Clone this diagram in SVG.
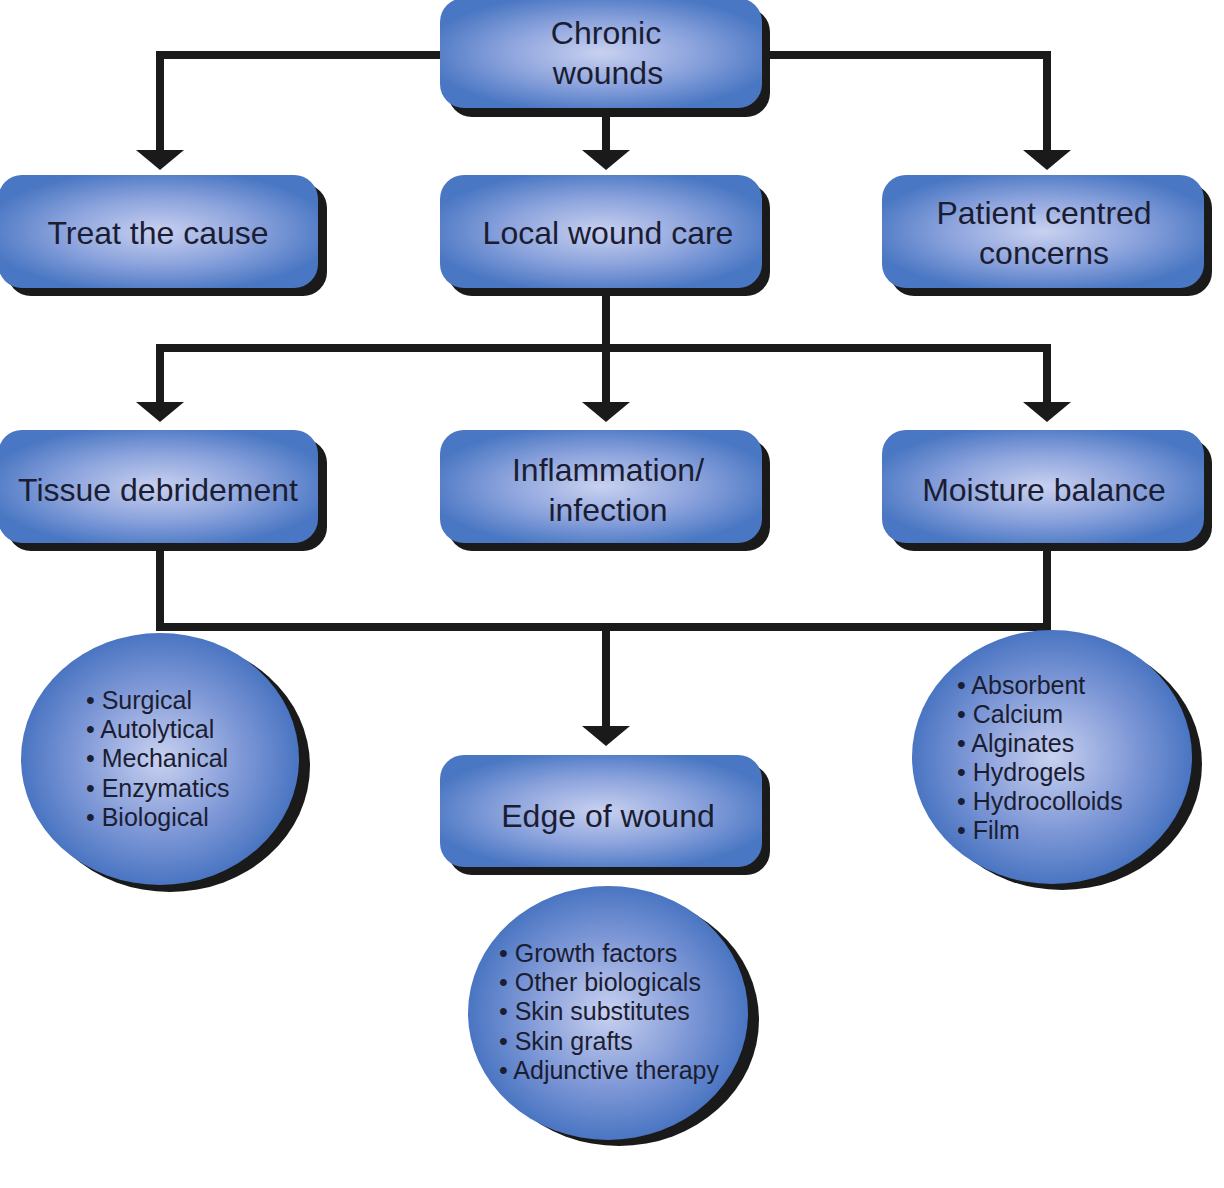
<svg xmlns="http://www.w3.org/2000/svg" width="1224" height="1188" viewBox="0 0 1224 1188">
<defs>
<radialGradient id="g" cx="50%" cy="50%" r="55%">
<stop offset="0" stop-color="#c9d1f0"/>
<stop offset="0.55" stop-color="#8aa2dc"/>
<stop offset="1" stop-color="#4a77c3"/>
</radialGradient>
<radialGradient id="gc" cx="50%" cy="50%" r="50%">
<stop offset="0" stop-color="#c9d1f0"/>
<stop offset="0.6" stop-color="#7d97d6"/>
<stop offset="1" stop-color="#4a75c2"/>
</radialGradient>
<marker id="ah" markerUnits="userSpaceOnUse" markerWidth="20" markerHeight="48" refX="0" refY="24" orient="auto" viewBox="0 0 20 48">
<path d="M0,0 L20,24 L0,48 z" fill="#1a1a1a"/>
</marker>
</defs>
<style>
.sh{fill:#1a1a1a}
.bx{fill:url(#g)}
.ci{fill:url(#gc)}
.lb{font-family:"Liberation Sans",Arial,sans-serif;font-size:32px;fill:#1b1d33;text-anchor:middle}
.bl{font-family:"Liberation Sans",Arial,sans-serif;font-size:25px;fill:#1b1d33}
.cn{fill:none;stroke:#1a1a1a;stroke-width:8}
</style>
<rect width="1224" height="1188" fill="#fff"/>
<g id="connectors">
<path class="cn" d="M440,55 H160 V150" marker-end="url(#ah)"/>
<path class="cn" d="M762,55 H1047 V150" marker-end="url(#ah)"/>
<path class="cn" d="M606,112 V150" marker-end="url(#ah)"/>
<path class="cn" d="M606,292 V348"/>
<path class="cn" d="M160,402 V348 H1047 V402" marker-end="url(#ah)"/>
<path class="cn" d="M160,348 V402" marker-end="url(#ah)"/>
<path class="cn" d="M606,348 V402" marker-end="url(#ah)"/>
<path class="cn" d="M160,545 V627 H1047 V545"/>
<path class="cn" d="M606,627 V726" marker-end="url(#ah)"/>
</g>
<g id="chronic">
<rect class="sh" x="448" y="8" width="322" height="109" rx="24"/>
<rect class="bx" x="440" y="-2" width="322" height="110" rx="24"/>
<text class="lb" x="606" y="44">Chronic</text>
<text class="lb" x="608" y="84">wounds</text>
</g>
<g id="treat">
<rect class="sh" x="7" y="184" width="320" height="112" rx="24"/>
<rect class="bx" x="-2" y="175" width="320" height="113" rx="24"/>
<text class="lb" x="158" y="244">Treat the cause</text>
</g>
<g id="local">
<rect class="sh" x="448" y="184" width="322" height="112" rx="24"/>
<rect class="bx" x="440" y="175" width="322" height="113" rx="24"/>
<text class="lb" x="608" y="244">Local wound care</text>
</g>
<g id="patient">
<rect class="sh" x="890" y="184" width="322" height="112" rx="24"/>
<rect class="bx" x="882" y="175" width="322" height="113" rx="24"/>
<text class="lb" x="1044" y="224">Patient centred</text>
<text class="lb" x="1044" y="264">concerns</text>
</g>
<g id="tissue">
<rect class="sh" x="7" y="439" width="320" height="112" rx="24"/>
<rect class="bx" x="-2" y="430" width="320" height="113" rx="24"/>
<text class="lb" x="158" y="501">Tissue debridement</text>
</g>
<g id="inflammation">
<rect class="sh" x="448" y="439" width="322" height="112" rx="24"/>
<rect class="bx" x="440" y="430" width="322" height="113" rx="24"/>
<text class="lb" x="608" y="481">Inflammation/</text>
<text class="lb" x="608" y="521">infection</text>
</g>
<g id="moisture">
<rect class="sh" x="890" y="439" width="322" height="112" rx="24"/>
<rect class="bx" x="882" y="430" width="322" height="113" rx="24"/>
<text class="lb" x="1044" y="501">Moisture balance</text>
</g>
<g id="edge">
<rect class="sh" x="448" y="764" width="322" height="111" rx="24"/>
<rect class="bx" x="440" y="755" width="322" height="112" rx="24"/>
<text class="lb" x="608" y="827">Edge of wound</text>
</g>
<g id="debridement-types">
<ellipse class="sh" cx="170" cy="766" rx="140" ry="126"/>
<ellipse class="ci" cx="160" cy="759" rx="139" ry="126"/>
<text class="bl" x="86" y="709">• Surgical</text>
<text class="bl" x="86" y="738">• Autolytical</text>
<text class="bl" x="86" y="767">• Mechanical</text>
<text class="bl" x="86" y="797">• Enzymatics</text>
<text class="bl" x="86" y="826">• Biological</text>
</g>
<g id="dressings">
<ellipse class="sh" cx="1062" cy="764" rx="140" ry="126"/>
<ellipse class="ci" cx="1052" cy="757" rx="140" ry="127"/>
<text class="bl" x="957" y="694">• Absorbent</text>
<text class="bl" x="957" y="723">• Calcium</text>
<text class="bl" x="957" y="752">• Alginates</text>
<text class="bl" x="957" y="781">• Hydrogels</text>
<text class="bl" x="957" y="810">• Hydrocolloids</text>
<text class="bl" x="957" y="839">• Film</text>
</g>
<g id="edge-therapies">
<ellipse class="sh" cx="619" cy="1020" rx="140" ry="126"/>
<ellipse class="ci" cx="608" cy="1013" rx="140" ry="127"/>
<text class="bl" x="499" y="962">• Growth factors</text>
<text class="bl" x="499" y="991">• Other biologicals</text>
<text class="bl" x="499" y="1020">• Skin substitutes</text>
<text class="bl" x="499" y="1050">• Skin grafts</text>
<text class="bl" x="499" y="1079">• Adjunctive therapy</text>
</g>
</svg>
